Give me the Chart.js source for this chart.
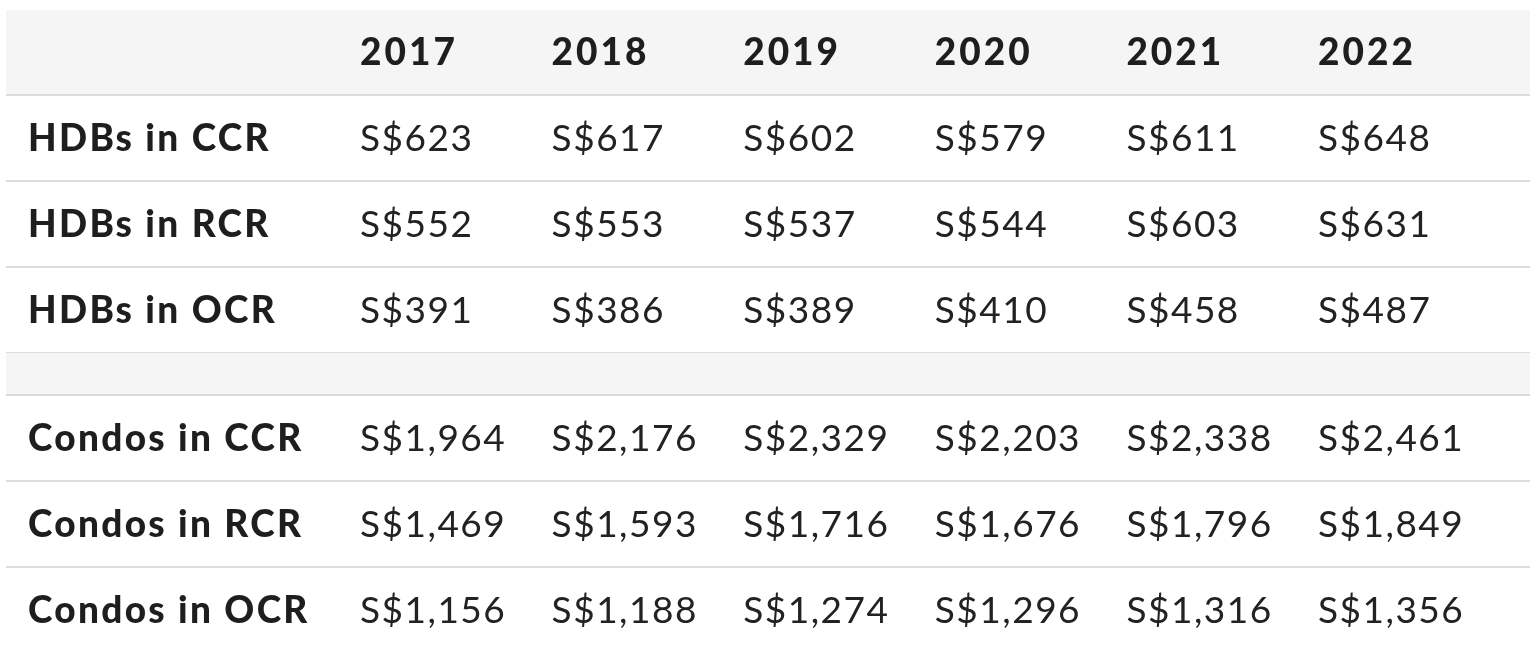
<!DOCTYPE html>
<html>
<head>
<meta charset="utf-8">
<script src="https://cdn.jsdelivr.net/npm/chart.js@4"></script>
<style>
  html, body { margin: 0; padding: 0; background: #fff; }
  #wrap { width: 1536px; height: 666px; }
</style>
</head>
<body>
<div id="wrap"><canvas id="table"></canvas></div>
<script>
const years = ["2017", "2018", "2019", "2020", "2021", "2022"];
const rowLabels = ["HDBs in CCR", "HDBs in RCR", "HDBs in OCR", "", "Condos in CCR", "Condos in RCR", "Condos in OCR"];
const hdbCCR = [623, 617, 602, 579, 611, 648];
const hdbRCR = [552, 553, 537, 544, 603, 631];
const hdbOCR = [391, 386, 389, 410, 458, 487];
const condoCCR = [1964, 2176, 2329, 2203, 2338, 2461];
const condoRCR = [1469, 1593, 1716, 1676, 1796, 1849];
const condoOCR = [1156, 1188, 1274, 1296, 1316, 1356];
const rows = [hdbCCR, hdbRCR, hdbOCR, null, condoCCR, condoRCR, condoOCR];

// layout: header + rows, blank spacer row is shorter
const rowHeights = [85, 86, 86, 86, 42, 86, 86, 86];
const firstColWidth = 354;
const colWidth = 191.6;
const textPad = 22;

const fmt = (v) => "S$" + v.toLocaleString("en-US");

// draws the table cells inside the chart area
const tablePlugin = {
  id: "tableCells",
  afterDraw(chart) {
    const { ctx, chartArea } = chart;
    const left = chartArea.left, right = chartArea.right;
    let y = chartArea.top;
    ctx.save();
    ctx.textBaseline = "middle";
    rowHeights.forEach((h, r) => {
      // header and spacer rows have a grey band
      if (r === 0 || r === 4) {
        ctx.fillStyle = "#f5f5f5";
        ctx.fillRect(left, y, right - left, h);
      }
      const cy = y + h / 2 + 1;
      if (r === 0) {
        ctx.fillStyle = "#1e1e1e";
        ctx.font = "900 37px Lato, 'Open Sans', sans-serif";
        ctx.letterSpacing = "3px";
        years.forEach((yr, i) => {
          ctx.fillText(yr, left + firstColWidth + colWidth * i, cy);
        });
      } else {
        const label = rowLabels[r - 1];
        const vals = rows[r - 1];
        if (label) {
          ctx.fillStyle = "#1e1e1e";
          ctx.font = "900 37px Lato, 'Open Sans', sans-serif";
          ctx.letterSpacing = "2.3px";
          ctx.fillText(label, left + textPad, cy);
        }
        if (vals) {
          ctx.fillStyle = "#222";
          ctx.font = "37px Lato, 'Open Sans', sans-serif";
          ctx.letterSpacing = "1.5px";
          vals.forEach((v, i) => {
            ctx.fillText(fmt(v), left + firstColWidth + colWidth * i, cy);
          });
        }
      }
      y += h;
      // row separator
      if (r < rowHeights.length - 1) {
        ctx.strokeStyle = "#dcdcdc";
        ctx.lineWidth = 2;
        ctx.beginPath();
        ctx.moveTo(left, y);
        ctx.lineTo(right, y);
        ctx.stroke();
      }
    });
    ctx.restore();
  },
};

new Chart(document.getElementById("table"), {
  type: "bar",
  data: { labels: years, datasets: [] },
  options: {
    responsive: true,
    maintainAspectRatio: false,
    animation: false,
    layout: { padding: { left: 6, right: 6, top: 10, bottom: 13 } },
    plugins: { legend: { display: false }, tooltip: { enabled: false } },
    scales: { x: { display: false }, y: { display: false } },
  },
  plugins: [tablePlugin],
});
</script>
</body>
</html>
